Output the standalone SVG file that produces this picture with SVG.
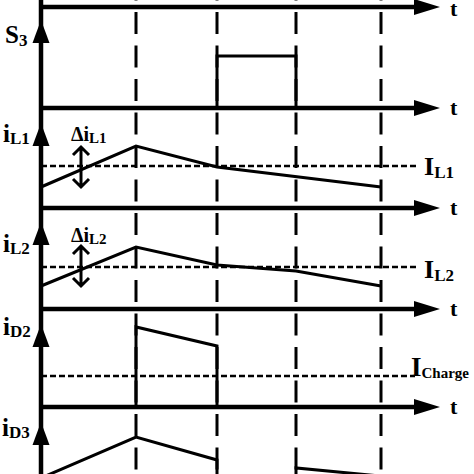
<svg xmlns="http://www.w3.org/2000/svg" width="474" height="474" viewBox="0 0 474 474">
<style>
.axis{stroke:#000;stroke-width:4.5;fill:none}
.wave{stroke:#000;stroke-width:3;fill:none;stroke-linejoin:miter}
.vdash{stroke:#000;stroke-width:3;fill:none;stroke-dasharray:22 11.5;stroke-dashoffset:21.5}
.ref{stroke:#000;stroke-width:2.5;fill:none;stroke-dasharray:6 3}
.darr{stroke:#000;stroke-width:3;fill:none}
text{font-family:"Liberation Serif","Times New Roman",serif;font-weight:bold;fill:#000}
.lbl{font-size:25px}
.sub{font-size:17px}
.tl{font-size:22px}
.dl{font-size:20px}
.dsub{font-size:15px}
.il{font-size:26px}
.ic{font-size:27px}
.csub{font-size:15px}
</style>
<defs>
<marker id="ah" markerUnits="userSpaceOnUse" viewBox="0 0 26 16" refX="16" refY="8" markerWidth="26" markerHeight="16" orient="auto">
<path d="M0,0 L26,8 L0,16 z" fill="#000"/>
</marker>
<path id="va" d="M0,0 L8.5,23 L-8.5,23 z" fill="#000"/>
<path id="dbl" d="M0,0 V40 M-8,8 L0,0 L8,8 M-8,32 L0,40 L8,32"/>
</defs>
<rect width="474" height="474" fill="#fff"/>

<g id="guides">
<line class="vdash" x1="136" y1="0" x2="136" y2="474"/>
<line class="vdash" x1="217" y1="0" x2="217" y2="474"/>
<line class="vdash" x1="296" y1="0" x2="296" y2="474"/>
<line class="vdash" x1="381" y1="0" x2="381" y2="474"/>
</g>

<g id="axes">
<line class="axis" x1="41" y1="0" x2="41" y2="474"/>
<line class="axis" x1="41" y1="7" x2="430" y2="7" marker-end="url(#ah)"/>
<line class="axis" x1="41" y1="108" x2="430" y2="108" marker-end="url(#ah)"/>
<line class="axis" x1="41" y1="208" x2="430" y2="208" marker-end="url(#ah)"/>
<line class="axis" x1="41" y1="309" x2="430" y2="309" marker-end="url(#ah)"/>
<line class="axis" x1="41" y1="407" x2="430" y2="407" marker-end="url(#ah)"/>
<use href="#va" x="41" y="20"/>
<use href="#va" x="41" y="123"/>
<use href="#va" x="41" y="222"/>
<use href="#va" x="41" y="324"/>
<use href="#va" x="41" y="422"/>
<text class="tl" x="450" y="16">t</text>
<text class="tl" x="450" y="115">t</text>
<text class="tl" x="450" y="215">t</text>
<text class="tl" x="450" y="316">t</text>
<text class="tl" x="450" y="414">t</text>
</g>

<g id="S3">
<path class="wave" d="M217,108 V56 H296 V108"/>
<text class="lbl" x="5" y="43">S<tspan class="sub" dy="3">3</tspan></text>
</g>

<g id="iL1">
<line class="ref" x1="41" y1="166" x2="417" y2="166"/>
<path class="wave" d="M41,187 L136,146 L217,167 L381,187"/>
<use href="#dbl" class="darr" x="81" y="147"/>
<text class="lbl" x="3" y="142">i<tspan class="sub" dy="2">L1</tspan></text>
<text class="dl" x="71" y="141">Δi<tspan class="dsub" dy="2">L1</tspan></text>
<text class="il" x="424" y="175">I<tspan class="sub" dy="3">L1</tspan></text>
</g>

<g id="iL2">
<line class="ref" x1="41" y1="267" x2="417" y2="267"/>
<path class="wave" d="M41,286 L136,247 L217,265 L296,271 L381,286"/>
<use href="#dbl" class="darr" x="81" y="246"/>
<text class="lbl" x="3" y="252">i<tspan class="sub" dy="2">L2</tspan></text>
<text class="dl" x="71" y="242">Δi<tspan class="dsub" dy="2">L2</tspan></text>
<text class="il" x="424" y="278">I<tspan class="sub" dy="3">L2</tspan></text>
</g>

<g id="iD2">
<line class="ref" x1="41" y1="376" x2="415" y2="376"/>
<path class="wave" d="M136,407 V327 L217,346 V407"/>
<text class="lbl" x="3" y="335">i<tspan class="sub" dy="2">D2</tspan></text>
<text class="ic" x="411" y="376">I<tspan class="csub" dy="2">Charge</tspan></text>
</g>

<g id="iD3">
<path class="wave" d="M41,478 L136,437 L217,460 V480"/>
<path class="wave" d="M296,480 V468 L380,476"/>
<text class="lbl" x="2" y="436">i<tspan class="sub" dy="2">D3</tspan></text>
</g>
</svg>
